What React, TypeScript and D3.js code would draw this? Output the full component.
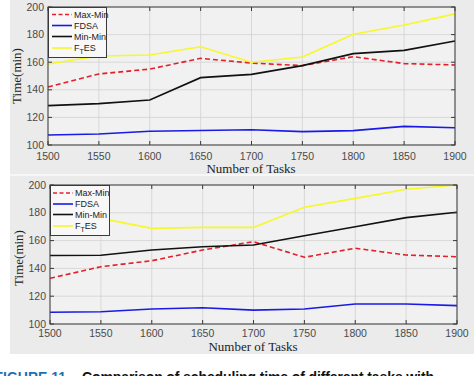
import React from "react";
import * as d3 from "d3";

const tasks = [1500, 1550, 1600, 1650, 1700, 1750, 1800, 1850, 1900];
const yTicks = [100, 120, 140, 160, 180, 200];

// Top chart
const topMaxMin = [142, 151.5, 155, 162.8, 159.4, 157.5, 164, 159, 158];
const topFDSA = [107.2, 108, 110, 110.5, 111, 109.7, 110.4, 113.5, 112.5];
const topMinMin = [128.5, 130, 132.6, 148.8, 151.2, 157.5, 166.2, 168.6, 175.4];
const topFTES = [158.7, 164.5, 165.2, 171.2, 160, 163.8, 180.2, 187, 195];

// Bottom chart
const botMaxMin = [132.9, 141.2, 145.5, 153.2, 159.2, 148, 154.5, 149.6, 148.4];
const botFDSA = [108.4, 108.8, 110.8, 111.7, 110, 110.8, 114.4, 114.4, 113.2];
const botMinMin = [149.3, 149.5, 153.2, 155.6, 156.8, 163.5, 170, 176.5, 180.4];
const botFTES = [177, 176, 168.8, 169.5, 169.5, 184, 190.4, 197, 200];

const seriesNames = ["Max-Min", "FDSA", "Min-Min", "FTES"];

const styles = [
  { color: "#e3202a", dash: "5,3" },
  { color: "#1a1ae6", dash: "" },
  { color: "#111111", dash: "" },
  { color: "#f7f72a", dash: "" },
];

type PanelProps = {
  x0: number; x1: number; y0: number; y1: number;
  data: number[][];
  legend: { x: number; y: number; w: number; h: number; rows: number[]; lx0: number; lx1: number; tx: number };
  xLabY: number; titleY: number; titleX: number; yTitleX: number; yTitleY: number;
};

function Panel(p: PanelProps) {
  const x = d3.scaleLinear().domain([1500, 1900]).range([p.x0, p.x1]);
  const y = d3.scaleLinear().domain([100, 200]).range([p.y1, p.y0]);
  const line = d3.line<number>().x((_, i) => x(tasks[i])).y((d) => y(d));
  const font = "Arial, 'Liberation Sans', sans-serif";
  return (
    <g>
      <rect x={p.x0} y={p.y0} width={p.x1 - p.x0} height={p.y1 - p.y0} fill="#f1f1f1" />
      {tasks.map((t) => (
        <line key={"gx" + t} x1={x(t)} x2={x(t)} y1={p.y0} y2={p.y1} stroke="#d2d2d2" strokeWidth={0.8} />
      ))}
      {yTicks.map((t) => (
        <line key={"gy" + t} x1={p.x0} x2={p.x1} y1={y(t)} y2={y(t)} stroke="#d2d2d2" strokeWidth={0.8} />
      ))}
      {p.data.map((d, i) => (
        <path key={"s" + i} d={line(d) || ""} fill="none" stroke={styles[i].color}
          strokeWidth={1.6} strokeDasharray={styles[i].dash} />
      ))}
      <rect x={p.x0} y={p.y0} width={p.x1 - p.x0} height={p.y1 - p.y0} fill="none" stroke="#3a3a3a" strokeWidth={1} />
      {tasks.map((t) => (
        <g key={"tx" + t}>
          <line x1={x(t)} x2={x(t)} y1={p.y1} y2={p.y1 - 4} stroke="#3a3a3a" />
          <line x1={x(t)} x2={x(t)} y1={p.y0} y2={p.y0 + 4} stroke="#3a3a3a" />
          <text x={x(t)} y={p.xLabY} textAnchor="middle" fontFamily={font} fontSize={10.5} fill="#4a4a4a">{t}</text>
        </g>
      ))}
      {yTicks.map((t) => (
        <g key={"ty" + t}>
          <line x1={p.x0} x2={p.x0 + 4} y1={y(t)} y2={y(t)} stroke="#3a3a3a" />
          <line x1={p.x1} x2={p.x1 - 4} y1={y(t)} y2={y(t)} stroke="#3a3a3a" />
          <text x={p.x0 - 4} y={y(t) + 3.5} textAnchor="end" fontFamily={font} fontSize={10.5} fill="#4a4a4a">{t}</text>
        </g>
      ))}
      <text x={p.titleX} y={p.titleY} textAnchor="middle" fontFamily="'Liberation Serif', 'Times New Roman', serif" fontSize={13} fill="#222">Number of Tasks</text>
      <text transform={`translate(${p.yTitleX},${p.yTitleY}) rotate(-90)`} textAnchor="middle" fontFamily="'Liberation Serif', 'Times New Roman', serif" fontSize={13} fill="#222">Time(min)</text>
      <rect x={p.legend.x} y={p.legend.y} width={p.legend.w} height={p.legend.h} fill="#f8f8f8" stroke="#3a3a3a" strokeWidth={1} />
      {seriesNames.map((n, i) => (
        <g key={"l" + i}>
          <line x1={p.legend.lx0} x2={p.legend.lx1} y1={p.legend.rows[i]} y2={p.legend.rows[i]}
            stroke={styles[i].color} strokeWidth={1.6} strokeDasharray={styles[i].dash ? "4,2.5" : ""} />
          <text x={p.legend.tx} y={p.legend.rows[i] + 3.2} fontFamily={font} fontSize={9} fill="#222">
            {n === "FTES" ? (
              <>
                <tspan>F</tspan>
                <tspan dy={3} fontSize={7}>T</tspan>
                <tspan dy={-3}>ES</tspan>
              </>
            ) : n}
          </text>
        </g>
      ))}
    </g>
  );
}

export default function App() {
  return (
    <svg width={474} height={376} style={{ position: "absolute", left: 0, top: 0, background: "#fff" }}>
      <rect x={0} y={0} width={474} height={376} fill="#ffffff" />
      <rect x={10} y={0} width={464} height={174} fill="#ebebeb" />
      <rect x={10} y={174} width={464} height={2} fill="#f7f7f7" />
      <rect x={10} y={176} width={464} height={178} fill="#ebebeb" />
      <Panel x0={48} x1={455} y0={7} y1={145}
        data={[topMaxMin, topFDSA, topMinMin, topFTES]}
        legend={{ x: 48.5, y: 7.5, w: 58, h: 50, rows: [14.5, 25.5, 36.5, 48], lx0: 52, lx1: 72, tx: 74 }}
        xLabY={160} titleY={173} titleX={251} yTitleX={21} yTitleY={76} />
      <Panel x0={50} x1={457} y0={185} y1={324}
        data={[botMaxMin, botFDSA, botMinMin, botFTES]}
        legend={{ x: 50.5, y: 185.5, w: 59, h: 50, rows: [193, 204, 214.5, 226], lx0: 53, lx1: 73, tx: 75 }}
        xLabY={337} titleY={351} titleX={253} yTitleX={23} yTitleY={258} />
      <text x={70} y={382} textAnchor="end" fontFamily="Arial, 'Liberation Sans', sans-serif" fontWeight="bold" fontSize={14} fill="#1f6fb5">FIGURE 11.</text>
      <text x={82} y={382} fontFamily="Arial, 'Liberation Sans', sans-serif" fontWeight="bold" fontSize={14} fill="#111" textLength={352} lengthAdjust="spacing">Comparison of scheduling time of different tasks with</text>
    </svg>
  );
}
